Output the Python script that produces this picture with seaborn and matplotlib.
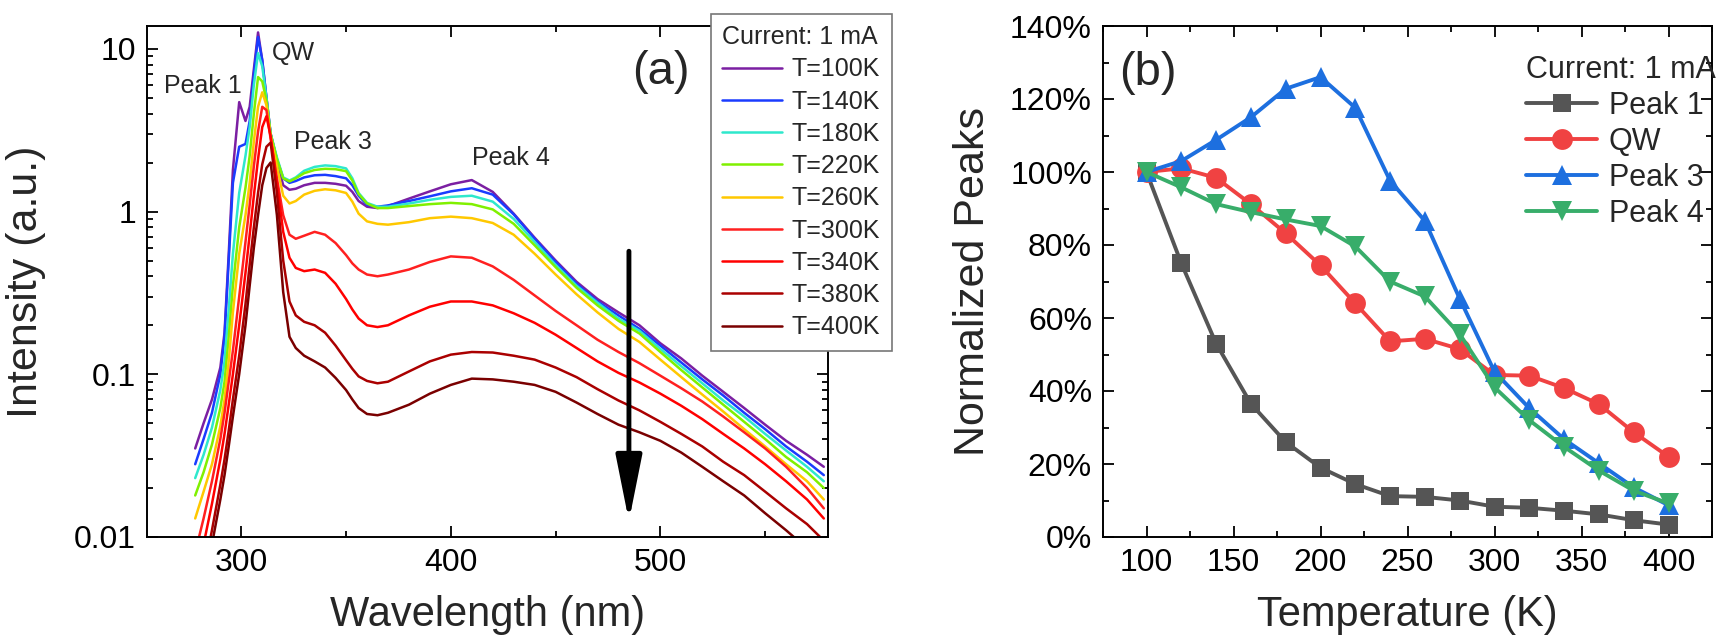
import matplotlib
matplotlib.use("Agg")
import seaborn as sns
from matplotlib import pyplot as plt
from matplotlib.ticker import MultipleLocator, LogLocator, NullFormatter, PercentFormatter

# ---- panel (a): PL spectra ----
wavelength = [278, 282, 286, 290, 292, 294, 296, 299, 302, 304, 306, 308, 310, 312, 314, 317,
              320, 323, 326, 330, 335, 340, 345, 350, 353, 356, 360, 365, 370, 380, 390, 400,
              410, 420, 430, 440, 450, 460, 470, 480, 490, 500, 510, 520, 530, 540, 550, 560,
              570, 578]

spec_100K = [0.035, 0.05, 0.07, 0.11, 0.18, 0.55, 1.8, 4.7, 3.6, 4.4, 7.5, 12.6, 8.5, 5.0, 3.0, 2.05,
             1.45, 1.36, 1.38, 1.45, 1.5, 1.5, 1.48, 1.44, 1.32, 1.16, 1.07, 1.05, 1.08, 1.2, 1.33, 1.47,
             1.56, 1.32, 0.97, 0.69, 0.5, 0.37, 0.29, 0.24, 0.2, 0.155, 0.125, 0.098, 0.078, 0.062, 0.049, 0.039,
             0.032, 0.027]
spec_140K = [0.028, 0.04, 0.058, 0.1, 0.17, 0.5, 1.5, 2.5, 2.6, 3.6, 7.0, 11.8, 8.5, 5.0, 3.0, 2.1,
             1.6, 1.5, 1.54, 1.62, 1.67, 1.68, 1.65, 1.6, 1.45, 1.25, 1.1, 1.07, 1.09, 1.16, 1.24, 1.33,
             1.39, 1.27, 0.96, 0.68, 0.49, 0.36, 0.28, 0.23, 0.19, 0.15, 0.118, 0.093, 0.074, 0.058, 0.046, 0.036,
             0.029, 0.024]
spec_180K = [0.023, 0.032, 0.047, 0.08, 0.12, 0.25, 0.55, 1.3, 2.2, 3.3, 6.0, 9.4, 7.8, 5.0, 3.0, 2.15,
             1.62, 1.55, 1.62, 1.78, 1.88, 1.92, 1.9, 1.84, 1.6, 1.3, 1.13, 1.07, 1.07, 1.12, 1.18, 1.23,
             1.25, 1.15, 0.9, 0.65, 0.47, 0.35, 0.275, 0.22, 0.185, 0.143, 0.112, 0.088, 0.069, 0.055, 0.043, 0.034,
             0.027, 0.022]
spec_220K = [0.018, 0.025, 0.037, 0.062, 0.09, 0.17, 0.35, 0.8, 1.4, 2.2, 4.0, 6.7, 6.3, 4.8, 3.0, 2.1,
             1.6, 1.53, 1.6, 1.72, 1.8, 1.83, 1.82, 1.77, 1.55, 1.28, 1.12, 1.05, 1.05, 1.08, 1.11, 1.13,
             1.11, 1.03, 0.84, 0.62, 0.455, 0.34, 0.265, 0.213, 0.178, 0.137, 0.106, 0.083, 0.065, 0.051, 0.04, 0.031,
             0.025, 0.02]
spec_260K = [0.013, 0.019, 0.028, 0.048, 0.07, 0.12, 0.24, 0.55, 0.95, 1.5, 2.7, 4.4, 5.4, 4.5, 2.9, 1.9,
             1.25, 1.12, 1.16, 1.27, 1.34, 1.37, 1.35, 1.3, 1.15, 0.97, 0.87, 0.84, 0.83, 0.86, 0.91, 0.93,
             0.91, 0.85, 0.72, 0.55, 0.41, 0.31, 0.24, 0.19, 0.158, 0.123, 0.096, 0.075, 0.059, 0.046, 0.036, 0.028,
             0.022, 0.017]
spec_300K = [0.008, 0.013, 0.022, 0.04, 0.058, 0.09, 0.14, 0.3, 0.65, 1.1, 1.9, 3.1, 4.4, 4.2, 2.8, 1.6,
             0.95, 0.72, 0.68, 0.71, 0.75, 0.72, 0.64, 0.54, 0.48, 0.44, 0.41, 0.4, 0.41, 0.44, 0.49, 0.53,
             0.52, 0.46, 0.38, 0.305, 0.245, 0.2, 0.163, 0.137, 0.117, 0.098, 0.082, 0.068, 0.055, 0.044, 0.035, 0.027,
             0.02, 0.015]
spec_340K = [0.006, 0.009, 0.016, 0.03, 0.043, 0.065, 0.1, 0.2, 0.42, 0.72, 1.25, 2.1, 3.3, 3.85, 2.9, 1.5,
             0.75, 0.52, 0.45, 0.43, 0.44, 0.42, 0.36, 0.29, 0.25, 0.22, 0.2, 0.195, 0.2, 0.23, 0.26, 0.28,
             0.28, 0.265, 0.237, 0.207, 0.175, 0.145, 0.12, 0.102, 0.089, 0.076, 0.064, 0.053, 0.043, 0.035, 0.028, 0.022,
             0.017, 0.013]
spec_380K = [0.004, 0.006, 0.011, 0.021, 0.03, 0.045, 0.07, 0.13, 0.27, 0.47, 0.8, 1.3, 1.95, 2.5, 2.65, 1.3,
             0.5, 0.28, 0.23, 0.21, 0.2, 0.18, 0.15, 0.122, 0.108, 0.097, 0.091, 0.088, 0.09, 0.104, 0.12, 0.132,
             0.137, 0.136, 0.13, 0.123, 0.11, 0.096, 0.081, 0.069, 0.06, 0.051, 0.043, 0.036, 0.029, 0.024, 0.019, 0.015,
             0.012, 0.0095]
spec_400K = [0.003, 0.005, 0.009, 0.017, 0.024, 0.036, 0.055, 0.1, 0.2, 0.35, 0.6, 0.95, 1.45, 1.85, 2.0, 0.95,
             0.32, 0.17, 0.145, 0.13, 0.12, 0.11, 0.095, 0.08, 0.07, 0.062, 0.057, 0.056, 0.058, 0.065, 0.076, 0.086,
             0.094, 0.093, 0.09, 0.086, 0.078, 0.067, 0.057, 0.049, 0.044, 0.039, 0.033, 0.027, 0.022, 0.018, 0.014, 0.011,
             0.0085, 0.007]

spectra = [spec_100K, spec_140K, spec_180K, spec_220K, spec_260K,
           spec_300K, spec_340K, spec_380K, spec_400K]
spec_labels = ['T=100K', 'T=140K', 'T=180K', 'T=220K', 'T=260K',
               'T=300K', 'T=340K', 'T=380K', 'T=400K']
spec_colors = ['#7b1fa2', '#1a3cff', '#2ee8cc', '#80f000', '#ffc800',
               '#ff2020', '#ff0000', '#aa0000', '#7a0000']

# ---- panel (b): normalized peak intensities (%) ----
temperature = [100, 120, 140, 160, 180, 200, 220, 240, 260, 280, 300, 320, 340, 360, 380, 400]
peak1 = [100, 75, 53, 36.5, 26, 19, 14.5, 11.2, 11, 10, 8.3, 8, 7.2, 6.2, 4.6, 3.4]
qw = [100, 101, 98.4, 91.2, 83.2, 74.4, 64, 53.6, 54.3, 51.5, 44.4, 44.2, 40.8, 36.4, 28.7, 22]
peak3 = [100, 103, 108.8, 115, 122.8, 126, 117.6, 97.6, 86.6, 65.3, 45.3, 35.3, 26.8, 20.2, 13.6, 8.7]
peak4 = [100, 95.8, 91.2, 89, 87, 85.2, 79.6, 70, 65.9, 55.6, 41, 32, 24.7, 18.2, 12.7, 9.2]

peak_series = [peak1, qw, peak3, peak4]
peak_labels = ['Peak 1', 'QW', 'Peak 3', 'Peak 4']
peak_colors = ['#555555', '#f04242', '#1d6fdf', '#38ad6a']
peak_markers = ['s', 'o', '^', 'v']

sns.set_theme(style='ticks')
plt.rcParams['font.family'] = ['Liberation Sans', 'DejaVu Sans']
plt.rcParams['axes.linewidth'] = 1.4
plt.rcParams['axes.edgecolor'] = 'black'

fig = plt.figure(figsize=(17.25, 6.38), dpi=100)
ax1 = fig.add_axes([147 / 1725, 101 / 638, 681 / 1725, 511 / 638])
ax2 = fig.add_axes([1103 / 1725, 101 / 638, 609 / 1725, 511 / 638])

# left panel
for vals, lab, col in zip(spectra, spec_labels, spec_colors):
    sns.lineplot(x=wavelength, y=vals, ax=ax1, color=col, linewidth=1.8, label=lab)

ax1.set_yscale('log')
ax1.set_xlim(255, 580)
ax1.set_ylim(0.01, 13.8)
ax1.set_yticks([0.01, 0.1, 1, 10])
ax1.set_yticklabels(['0.01', '0.1', '1', '10'])
ax1.yaxis.set_minor_locator(LogLocator(base=10, subs=range(2, 10)))
ax1.yaxis.set_minor_formatter(NullFormatter())
ax1.xaxis.set_major_locator(MultipleLocator(100))
ax1.xaxis.set_minor_locator(MultipleLocator(50))
ax1.set_xlabel('Wavelength (nm)', fontsize=30, labelpad=12)
ax1.set_ylabel('Intensity (a.u.)', fontsize=31, labelpad=20)

ax1.text(281.7, 5.9, 'Peak 1', fontsize=18, ha='center', va='center')
ax1.text(324.9, 9.45, 'QW', fontsize=18, ha='center', va='center')
ax1.text(343.5, 2.68, 'Peak 3', fontsize=18, ha='center', va='center')
ax1.text(428.7, 2.12, 'Peak 4', fontsize=18, ha='center', va='center')
ax1.text(500.3, 7.2, '(a)', fontsize=34, ha='center', va='center')

ax1.annotate('', xy=(485, 0.0125), xytext=(485, 0.57),
             arrowprops=dict(arrowstyle='-|>,head_width=0.4,head_length=2.0', lw=3.5,
                             color='black', mutation_scale=20, shrinkA=0, shrinkB=0))

leg1 = ax1.legend(title='Current: 1 mA', loc='upper left', bbox_to_anchor=(698 / 1725, 0.998),
                  bbox_transform=fig.transFigure, frameon=True, fancybox=False,
                  edgecolor='#777777', framealpha=1, fontsize=18, title_fontsize=18,
                  handlelength=2.4, handletextpad=0.4, labelspacing=0.33, borderpad=0.45,
                  alignment='left')
leg1.get_frame().set_linewidth(1.2)

# right panel
for vals, lab, col, mk in zip(peak_series, peak_labels, peak_colors, peak_markers):
    sns.lineplot(x=temperature, y=vals, ax=ax2, color=col, linewidth=2.8, marker=mk,
                 markersize=15 if mk != 's' else 13, markeredgewidth=0, label=lab)

ax2.set_xlim(75, 425)
ax2.set_ylim(0, 140)
ax2.xaxis.set_major_locator(MultipleLocator(50))
ax2.xaxis.set_minor_locator(MultipleLocator(25))
ax2.yaxis.set_major_locator(MultipleLocator(20))
ax2.yaxis.set_minor_locator(MultipleLocator(10))
ax2.yaxis.set_major_formatter(PercentFormatter(decimals=0))
ax2.set_xlabel('Temperature (K)', fontsize=30, labelpad=12)
ax2.set_ylabel('Normalized Peaks', fontsize=31, labelpad=12)
ax2.text(100.9, 127, '(b)', fontsize=34, ha='center', va='center')

ax2.legend(title='Current: 1 mA', loc='upper left', bbox_to_anchor=(1505 / 1725, 0.948),
           bbox_transform=fig.transFigure, frameon=False, fontsize=22, title_fontsize=22,
           handlelength=2.3, handletextpad=0.4, labelspacing=0.2, borderpad=0.2,
           alignment='left')

for ax in (ax1, ax2):
    ax.tick_params(which='both', direction='in', top=True, right=True, width=1.3,
                   labelsize=23, pad=8, colors='black')
    ax.tick_params(which='major', length=8)
    ax.tick_params(which='minor', length=4.5)
    for sp in ax.spines.values():
        sp.set_visible(True)
        sp.set_color('black')

fig.savefig('out.png', dpi=100)
